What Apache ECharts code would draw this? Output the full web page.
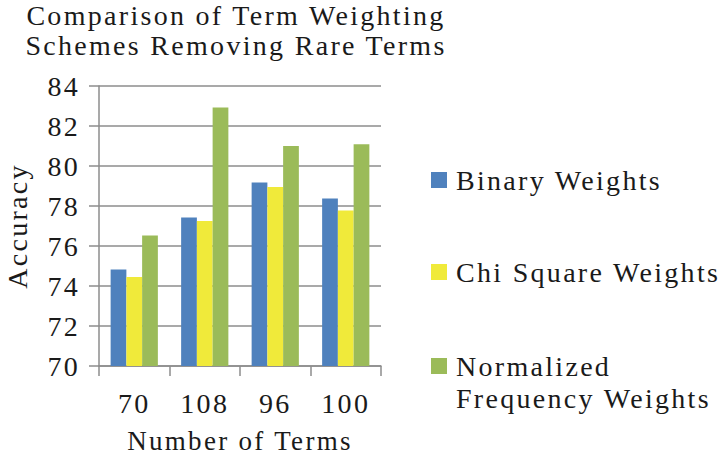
<!DOCTYPE html>
<html>
<head>
<meta charset="utf-8">
<script src="https://cdn.jsdelivr.net/npm/echarts@6/dist/echarts.min.js"></script>
<style>
html, body { margin: 0; padding: 0; background: #fff; }
#main { width: 720px; height: 458px; }
/* the original text is set a little looser than the font's own spacing */
#main text { letter-spacing: 2.3px; font-family: "Liberation Serif", serif !important; }
</style>
</head>
<body>
<div id="main"></div>
<script>
// data
var categories = ['70', '108', '96', '100'];
var binaryWeights = [74.82, 77.42, 79.17, 78.37];
var chiSquareWeights = [74.45, 77.25, 78.95, 77.78];
var normFreqWeights = [76.52, 82.92, 81.0, 81.09];
var seriesNames = ['Binary Weights', 'Chi Square Weights', 'Normalized Frequency Weights'];

var fontFam = 'Liberation Serif';
var gridColor = '#8c8c8c';
var textColor = '#1a1a1a';

var chart = echarts.init(document.getElementById('main'), null, { renderer: 'svg' });

function legendFor(name, top, fmt, lh) {
    return {
        data: [name],
        orient: 'vertical',
        left: 431, top: top,
        padding: 0,
        itemWidth: 16, itemHeight: 16,
        icon: 'rect',
        selectedMode: false,
        formatter: fmt,
        textStyle: { fontFamily: fontFam, fontSize: 28, lineHeight: lh, color: textColor, padding: [0, 0, 0, 4] }
    };
}

var option = {
    backgroundColor: '#fff',
    animation: false,
    title: {
        text: 'Comparison of Term Weighting\nSchemes Removing Rare Terms',
        left: 236,
        top: 0,
        textAlign: 'center',
        padding: 0,
        textStyle: {
            fontFamily: fontFam,
            fontWeight: 'normal',
            fontSize: 28,
            lineHeight: 30,
            color: textColor
        }
    },
    grid: { //plot area
        left: 99,
        right: 339,
        top: 86,
        bottom: 92,
        containLabel: false,
        outerBoundsMode: 'none'
    },
    legend: [
        legendFor(seriesNames[0], 166, '{name}', 28),
        legendFor(seriesNames[1], 258, '{name}', 28),
        // empty first line keeps the square next to the first text line
        legendFor(seriesNames[2], 318, function () { return '\nNormalized\nFrequency Weights'; }, 32)
    ],
    xAxis: {
        type: 'category',
        data: categories,
        name: 'Number of Terms',
        nameLocation: 'middle',
        nameGap: 63,
        nameTextStyle: { fontFamily: fontFam, fontSize: 27, lineHeight: 24, color: textColor },
        axisLine: { lineStyle: { color: gridColor, width: 1.5 } },
        axisTick: { show: true, length: 10, lineStyle: { color: gridColor, width: 1.5 } },
        axisLabel: {
            fontFamily: fontFam, fontSize: 28, color: textColor, margin: 23
        }
    },
    yAxis: {
        type: 'value',
        min: 70,
        max: 84,
        interval: 2,
        name: 'Accuracy',
        nameLocation: 'middle',
        nameGap: 68,
        nameTextStyle: { fontFamily: fontFam, fontSize: 28, color: textColor },
        axisLine: { show: true, lineStyle: { color: gridColor, width: 1.5 } },
        axisTick: { show: true, length: 10, lineStyle: { color: gridColor, width: 1.5 } },
        axisLabel: { fontFamily: fontFam, fontSize: 28, color: textColor, margin: 19 },
        splitLine: { lineStyle: { color: gridColor, width: 1.5 } }
    },
    series: [
        {
            name: seriesNames[0],
            type: 'bar',
            data: binaryWeights,
            barGap: '0%',
            barCategoryGap: '33%',
            itemStyle: { color: '#4f81bd' }
        },
        {
            name: seriesNames[1],
            type: 'bar',
            data: chiSquareWeights,
            itemStyle: { color: '#f0ea3a' }
        },
        {
            name: seriesNames[2],
            type: 'bar',
            data: normFreqWeights,
            itemStyle: { color: '#9bbb59' }
        }
    ]
};
chart.setOption(option);
</script>
</body>
</html>
